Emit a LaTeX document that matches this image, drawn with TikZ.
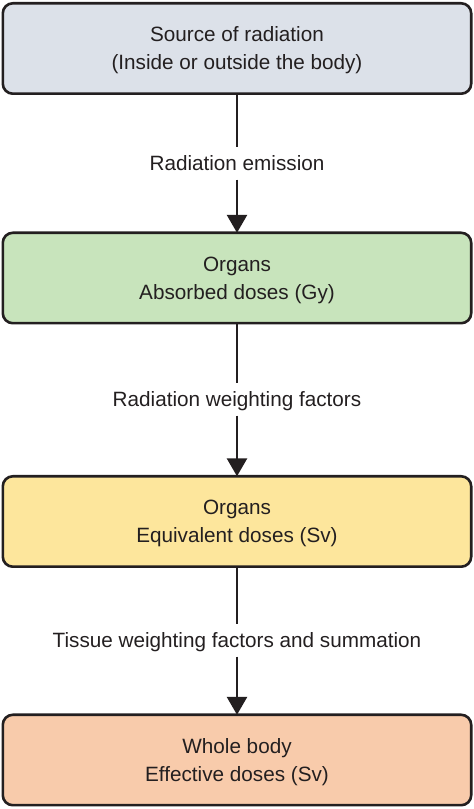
\documentclass[tikz,border=0pt]{standalone}
\usepackage{fontspec}
\setmainfont{Liberation Sans}
\usetikzlibrary{arrows.meta}
\definecolor{inkc}{HTML}{231F20}
\definecolor{srcfill}{HTML}{DCE1E9}
\definecolor{absfill}{HTML}{C8E4BC}
\definecolor{eqfill}{HTML}{FDE69C}
\definecolor{efffill}{HTML}{F8CBAB}
\tikzset{
  stagebox/.style={draw=inkc, line width=2.6pt, rounded corners=10pt,
    minimum width=468.4pt, minimum height=90.4pt, inner sep=0pt},
  boxline/.style={anchor=base, inner sep=0pt, text=inkc,
    font=\fontsize{20.7}{28}\selectfont},
  steplabel/.style={inner sep=0pt, text height=14.8pt, text depth=0pt,
    minimum height=32pt, text=inkc, font=\fontsize{20.7}{28}\selectfont},
  conn/.style={draw=inkc, line width=2.8pt},
  connarrow/.style={conn, -{Triangle[length=18pt,width=20pt]}, shorten >=-1.3pt}
}
\begin{document}
\begin{tikzpicture}[x=1pt,y=1pt]
\useasboundingbox (0,0) rectangle (474,809);
% boxes
\node[stagebox, fill=srcfill] (b1) at (237,760.5) {};
\node[stagebox, fill=absfill] (b2) at (237,531) {};
\node[stagebox, fill=eqfill] (b3) at (237,287.5) {};
\node[stagebox, fill=efffill] (b4) at (237,49) {};
% box texts
\node[boxline] (b1a) at ([yshift=6.5pt]b1.center) {Source of radiation};
\node[boxline] (b1b) at ([yshift=-21.5pt]b1.center) {(Inside or outside the body)};
\node[boxline] (b2a) at ([yshift=6.5pt]b2.center) {Organs};
\node[boxline] (b2b) at ([yshift=-21.5pt]b2.center) {Absorbed doses (Gy)};
\node[boxline] (b3a) at ([yshift=6.5pt]b3.center) {Organs};
\node[boxline] (b3b) at ([yshift=-21.5pt]b3.center) {Equivalent doses (Sv)};
\node[boxline] (b4a) at ([yshift=6.5pt]b4.center) {Whole body};
\node[boxline] (b4b) at ([yshift=-21.5pt]b4.center) {Effective doses (Sv)};
% step labels
\node[steplabel] (l1) at (237,645.5) {Radiation emission};
\node[steplabel] (l2) at (237,409.5) {Radiation weighting factors};
\node[steplabel] (l3) at (237,168.5) {Tissue weighting factors and summation};
% connectors
\draw[conn] (b1.south) -- (l1.north);
\draw[connarrow] (l1.south) -- (b2.north);
\draw[conn] (b2.south) -- (l2.north);
\draw[connarrow] (l2.south) -- (b3.north);
\draw[conn] (b3.south) -- (l3.north);
\draw[connarrow] (l3.south) -- (b4.north);
\end{tikzpicture}
\end{document}
